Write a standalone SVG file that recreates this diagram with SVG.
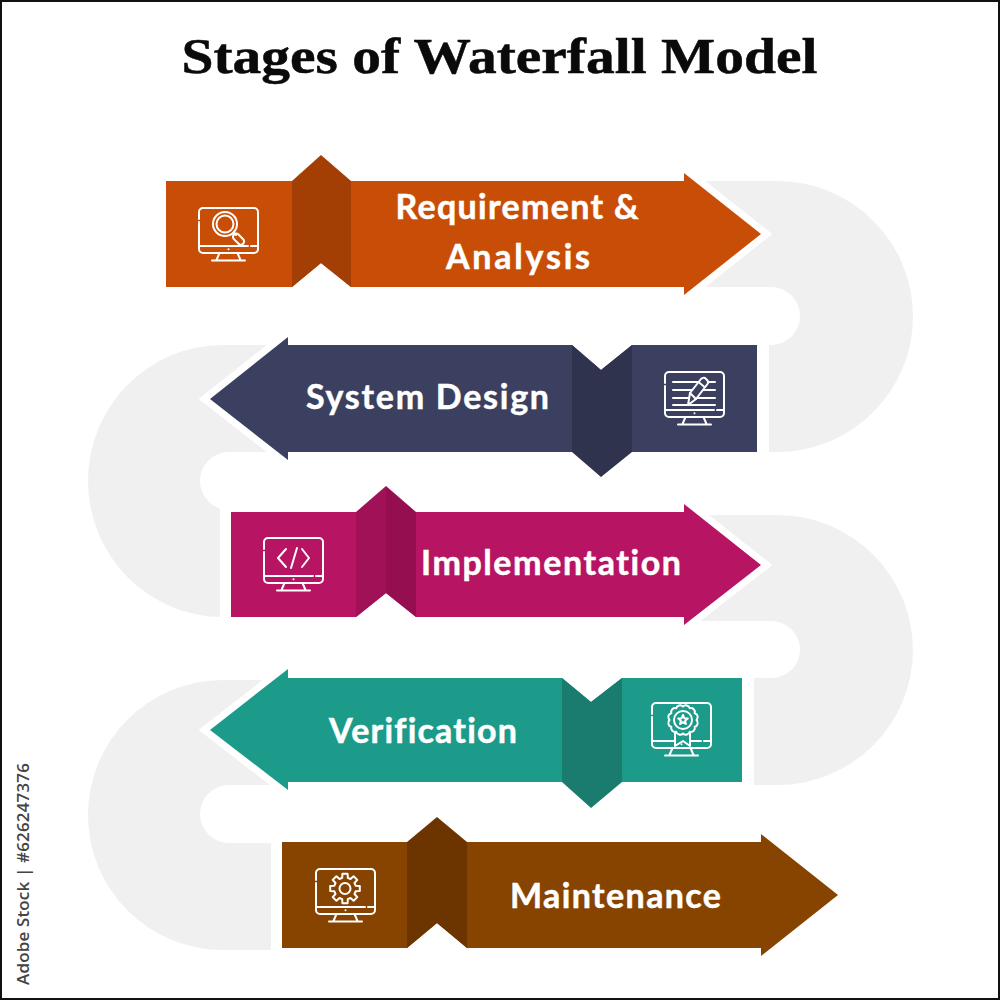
<svg xmlns="http://www.w3.org/2000/svg" width="1000" height="1000" viewBox="0 0 1000 1000">
<style>
.lbl{font-family:"Lato","Liberation Sans",sans-serif;font-weight:700;font-size:34px;fill:#fff;stroke:#fff;stroke-width:.5;font-variant-ligatures:none}
.ttl{font-family:"Liberation Serif",serif;font-weight:700;font-size:50px;fill:#0a0a0a;stroke:#0a0a0a;stroke-width:.5}
.ic{fill:none;stroke:#fff;stroke-width:2;stroke-linecap:round;stroke-linejoin:round}
.halo{stroke:#fff;stroke-width:14;stroke-linejoin:miter;fill:#fff}
.grey{fill:#f0f0f0}
.w{fill:#fff}
</style>
<defs>
<g id="monitor" class="ic">
<path d="M0 11V4A4 4 0 0 1 4 0H55A4 4 0 0 1 59 4V41A4 4 0 0 1 55 45H4A4 4 0 0 1 0 41V14"/>
<path d="M0 38H49M52 38H59M29.500 41.200v.1M20.500 45L17.500 52M38.500 45L41.500 52M13 52.500H46"/>
</g>
</defs>
<rect x="0" y="0" width="1000" height="1000" fill="#fff"/>
<g id="ribbon">
<path class="grey" d="M700 181H777A136 135.500 0 0 1 777 452H700Z"/>
<path class="grey" d="M300 345H223A135 136 0 0 0 223 617H300Z"/>
<path class="grey" d="M700 515H777A136 135 0 0 1 777 785H700Z"/>
<path class="grey" d="M300 680H223A135 135 0 0 0 223 950H300Z"/>
<path class="w" d="M680 287H771A29 29 0 0 1 771 345H680Z"/>
<path class="w" d="M320 452H229A29 29 0 0 0 229 510H320Z"/>
<path class="w" d="M680 621H771A29 28.500 0 0 1 771 678H680Z"/>
<path class="w" d="M320 785H229A29 29 0 0 0 229 843H320Z"/>
</g>
<g id="connectors"></g>
<text class="ttl" x="499.500" y="73" text-anchor="middle" textLength="636" lengthAdjust="spacingAndGlyphs">Stages of Waterfall Model</text>

<g id="node-requirement">
<path class="halo" d="M166 181H684V173L761 234L684 295V287H166Z"/>
<path fill="#c84e08" d="M166 181H684V173L761 234L684 295V287H351L321 263L292 287H166Z"/>
<path fill="#a33e05" d="M292 181L321 155L351 181V287L321 263L292 287Z"/>
<g transform="translate(199 208)"><use href="#monitor"/>
<g class="ic"><circle cx="26" cy="16" r="12"/><circle cx="26" cy="16" r="8.500"/><path d="M34.500 24.500L37 27"/><rect x="36" y="25" width="6.500" height="13" rx="3.200" transform="rotate(-45 39 31)"/></g></g>
<text class="lbl" x="517" y="219" text-anchor="middle" textLength="243">Requirement &amp;</text>
<text class="lbl" x="518" y="269" text-anchor="middle" textLength="144">Analysis</text>
</g>

<g id="node-system-design">
<rect class="w" x="740" y="341" width="29" height="115"/>
<path class="halo" d="M757 345H288V337L210 399L288 460V452H757Z"/>
<path fill="#3b4060" d="M757 345H632L601 370L572 345H288V337L210 399L288 460V452H757Z"/>
<path fill="#2f334d" d="M572 345L601 370L632 345V452L601 477L572 452Z"/>
<g transform="translate(665 372)"><use href="#monitor"/>
<g class="ic"><path d="M8 10H50M8 18H50M8 26H50M8 33H50"/><path fill="#3b4060" d="M23 33L25 21L36 7Q38 5 40 6L42 8Q44 10 42.500 12L31 27Z"/><path d="M25 21L31 27M33.500 10L39.500 15"/></g></g>
<text class="lbl" x="427.500" y="409" text-anchor="middle" textLength="243">System Design</text>
</g>

<g id="node-implementation">
<rect class="w" x="220" y="508" width="29" height="113"/>
<path class="halo" d="M231 512H684V504L761 565L684 625V617H231Z"/>
<path fill="#b81464" d="M231 512H684V504L761 565L684 625V617H416L386 593L356 617H231Z"/>
<path fill="#a01158" d="M356 512L386 486V593L356 617Z"/>
<path fill="#950f50" d="M386 486L416 512V617L386 593Z"/>
<g transform="translate(264 538)"><use href="#monitor"/>
<g class="ic"><path d="M22 11L14 20L22 29M38 11L45 20L38 29M33 10L27 30"/></g></g>
<text class="lbl" x="551" y="575" text-anchor="middle" textLength="260">Implementation</text>
</g>

<g id="node-verification">
<rect class="w" x="730" y="674" width="24" height="112"/>
<path class="halo" d="M742 678H288V669L210 730L288 790V782H742Z"/>
<path fill="#1c9b8a" d="M742 678H622L591 702L562 678H288V669L210 730L288 790V782H742Z"/>
<path fill="#197c6e" d="M562 678L591 702L622 678V782L591 808L562 782Z"/>
<g transform="translate(652 703)"><use href="#monitor"/>
<g class="ic"><path fill="#1c9b8a" d="M23 27V43L31 38L38 43V27"/>
<g transform="translate(31 17)"><path fill="#1c9b8a" d="M13.500 0A4 4 0 0 1 11.700 6.750A4 4 0 0 1 6.750 11.700A4 4 0 0 1 0 13.500A4 4 0 0 1-6.750 11.700A4 4 0 0 1-11.700 6.750A4 4 0 0 1-13.500 0A4 4 0 0 1-11.700-6.750A4 4 0 0 1-6.750-11.700A4 4 0 0 1 0-13.500A4 4 0 0 1 6.750-11.700A4 4 0 0 1 11.700-6.750A4 4 0 0 1 13.500 0Z"/><circle r="9"/><path d="M0-5L1.300-1.800L4.800-1.500L2.100 .7L2.900 4L0 2.200L-2.900 4L-2.100 .7L-4.800-1.500L-1.300-1.800Z"/></g></g></g>
<text class="lbl" x="423" y="743" text-anchor="middle" textLength="188">Verification</text>
</g>

<g id="node-maintenance">
<rect class="w" x="271" y="838" width="29" height="114"/>
<path class="halo" d="M282 842H761V834L838 895L761 956V948H282Z"/>
<path fill="#874300" d="M282 842H761V834L838 895L761 956V948H467L437 923L407 948H282Z"/>
<path fill="#6c3500" d="M407 842L437 817L467 842V948L437 923L407 948Z"/>
<g transform="translate(316 869)"><use href="#monitor"/>
<g class="ic" transform="translate(29 19.500)"><path d="M10.600-2.800L14.800-2.600V2.600L10.600 2.800L9.500 5.500L12.300 8.600L8.600 12.300L5.500 9.500L2.800 10.600L2.600 14.800H-2.600L-2.800 10.600L-5.500 9.500L-8.600 12.300L-12.300 8.600L-9.500 5.500L-10.600 2.800L-14.800 2.600V-2.600L-10.600-2.800L-9.500-5.500L-12.300-8.600L-8.600-12.300L-5.500-9.500L-2.800-10.600L-2.600-14.800H2.600L2.800-10.600L5.500-9.500L8.600-12.300L12.300-8.600L9.500-5.500Z"/><circle r="5.500"/></g></g>
<text class="lbl" x="615.500" y="908" text-anchor="middle" textLength="211">Maintenance</text>
</g>

<text transform="translate(29 985) rotate(-90)" x="0" y="0" font-family="'Open Sans','Liberation Sans',sans-serif" font-weight="600" font-size="17" fill="#444" textLength="222">Adobe Stock | #626247376</text>
<rect x="1" y="1" width="998" height="998" fill="none" stroke="#111" stroke-width="2"/>
</svg>
